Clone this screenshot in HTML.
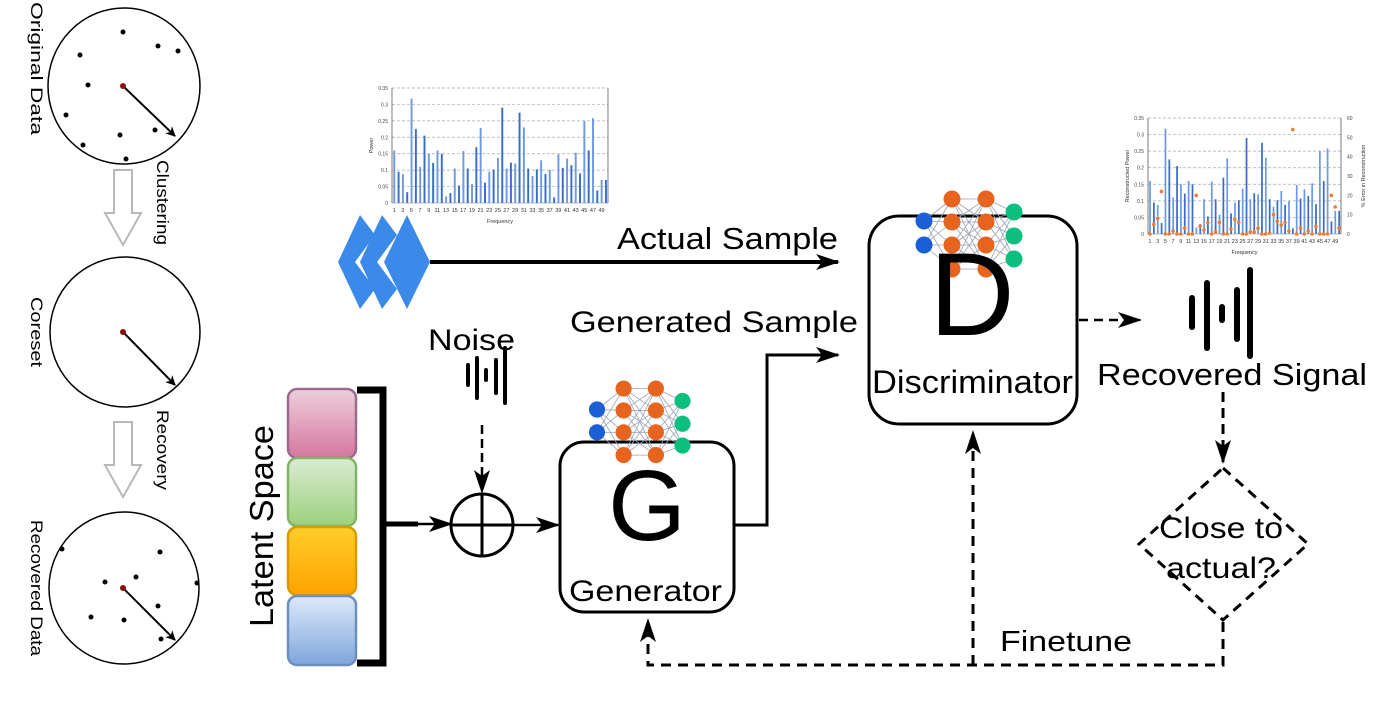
<!DOCTYPE html>
<html><head><meta charset="utf-8"><style>
html,body{margin:0;padding:0;background:#fff;}
svg{display:block;font-family:"Liberation Sans",Arial,sans-serif;}
</style></head><body>
<svg id="s" width="1399" height="716" viewBox="0 0 1399 716" xmlns="http://www.w3.org/2000/svg">
<defs>
<marker id="ah" markerWidth="10" markerHeight="10" refX="9" refY="5" orient="auto" markerUnits="userSpaceOnUse"><path d="M0,0 L10,5 L0,10 L3,5 z" fill="#000"/></marker>
<marker id="ah2" markerWidth="24" markerHeight="16" refX="22" refY="8" orient="auto" markerUnits="userSpaceOnUse"><path d="M0,0 L24,8 L0,16 L6,8 z" fill="#000"/></marker>
<linearGradient id="gp" x1="0" y1="0" x2="0" y2="1"><stop offset="0" stop-color="#ecd0dc"/><stop offset="1" stop-color="#d6769e"/></linearGradient>
<linearGradient id="gg" x1="0" y1="0" x2="0" y2="1"><stop offset="0" stop-color="#dbecd3"/><stop offset="1" stop-color="#9bd07c"/></linearGradient>
<linearGradient id="go" x1="0" y1="0" x2="0" y2="1"><stop offset="0" stop-color="#ffcd2a"/><stop offset="1" stop-color="#ffa200"/></linearGradient>
<linearGradient id="gb" x1="0" y1="0" x2="0" y2="1"><stop offset="0" stop-color="#dde9fa"/><stop offset="1" stop-color="#7fa6dc"/></linearGradient>
</defs>

<g fill="none" stroke="#000" stroke-width="1.5">
<ellipse cx="124" cy="86" rx="76" ry="78"/>
<ellipse cx="125" cy="332" rx="75" ry="75"/>
<ellipse cx="124" cy="588" rx="75" ry="76"/>
<line x1="123" y1="86" x2="175" y2="136" stroke-width="2" marker-end="url(#ah)"/>
<line x1="123" y1="332" x2="175" y2="385" stroke-width="2" marker-end="url(#ah)"/>
<line x1="123" y1="588" x2="175" y2="640" stroke-width="2" marker-end="url(#ah)"/>
</g>
<g fill="#000">
<circle cx="123" cy="32" r="2.5"/><circle cx="158" cy="46" r="2.5"/><circle cx="178" cy="51" r="2.5"/><circle cx="80" cy="55" r="2.5"/><circle cx="88" cy="85" r="2.5"/><circle cx="66" cy="115" r="2.5"/><circle cx="155" cy="130" r="2.5"/><circle cx="120" cy="135" r="2.5"/><circle cx="83" cy="145" r="2.5"/><circle cx="126" cy="159" r="2.5"/>
<circle cx="62" cy="549" r="2.5"/><circle cx="160" cy="552" r="2.5"/><circle cx="105" cy="582" r="2.5"/><circle cx="136" cy="577" r="2.5"/><circle cx="197" cy="583" r="2.5"/><circle cx="158" cy="606" r="2.5"/><circle cx="91" cy="617" r="2.5"/><circle cx="124" cy="620" r="2.5"/><circle cx="161" cy="639" r="2.5"/>
</g>
<g fill="#8b1010"><circle cx="123" cy="86" r="3"/><circle cx="123" cy="332" r="3"/><circle cx="123" cy="588" r="3"/></g>
<g fill="#fff" stroke="#b8b8b8" stroke-width="2">
<path d="M114,170 L132,170 L132,213 L141,213 L123,245 L105,213 L114,213 z"/>
<path d="M114,422 L132,422 L132,465 L141,465 L123,497 L105,465 L114,465 z"/>
</g>
<g font-size="17" fill="#000" lengthAdjust="spacingAndGlyphs">
<text transform="translate(31,2) rotate(90)" textLength="133" lengthAdjust="spacingAndGlyphs">Original Data</text>
<text transform="translate(157,160) rotate(90)" textLength="85" lengthAdjust="spacingAndGlyphs">Clustering</text>
<text transform="translate(31,297) rotate(90)" textLength="70" lengthAdjust="spacingAndGlyphs">Coreset</text>
<text transform="translate(157,410) rotate(90)" textLength="80" lengthAdjust="spacingAndGlyphs">Recovery</text>
<text transform="translate(31,520) rotate(90)" textLength="136" lengthAdjust="spacingAndGlyphs">Recovered Data</text>
</g>

<g id="c1"></g>
<g id="c2"></g>

<g fill="#3b8aea">
<path d="M360,215 L375,235 L355,262 L375,289 L360,309 L338,262 z"/>
<path d="M382,215 L397,235 L377,262 L397,289 L382,309 L360,262 z"/>
<path d="M407,215 L430,262 L407,309 L384,262 z"/>
</g>
<line x1="430" y1="262" x2="838" y2="262" stroke="#000" stroke-width="4" marker-end="url(#ah2)"/>
<text x="617" y="249" font-size="31" textLength="221" lengthAdjust="spacingAndGlyphs">Actual Sample</text>
<text x="570" y="332" font-size="30" textLength="288" lengthAdjust="spacingAndGlyphs">Generated Sample</text>
<polyline points="735,525 767,525 767,355 838,355" fill="none" stroke="#000" stroke-width="3" marker-end="url(#ah2)"/>

<rect x="869" y="216" width="208" height="208" rx="30" fill="none" stroke="#000" stroke-width="3"/>
<g id="nn1"></g>
<text x="972" y="335" font-size="118" text-anchor="middle">D</text>
<text x="872" y="393" font-size="32" textLength="201" lengthAdjust="spacingAndGlyphs">Discriminator</text>

<rect x="560" y="442" width="174" height="170" rx="24" fill="none" stroke="#000" stroke-width="3"/>
<g id="nn2"></g>
<text x="647" y="540" font-size="100" text-anchor="middle">G</text>
<text x="569" y="601" font-size="30" textLength="153" lengthAdjust="spacingAndGlyphs">Generator</text>

<rect x="288" y="389" width="68" height="69" rx="9" fill="url(#gp)" stroke="#9b6a8f" stroke-width="2.5"/>
<rect x="288" y="458" width="68" height="68" rx="9" fill="url(#gg)" stroke="#82b366" stroke-width="2.5"/>
<rect x="288" y="527" width="68" height="68" rx="9" fill="url(#go)" stroke="#d79b00" stroke-width="2.5"/>
<rect x="288" y="596" width="68" height="69" rx="9" fill="url(#gb)" stroke="#6c8ebf" stroke-width="2.5"/>
<polyline points="357,390 383,390 383,663 357,663" fill="none" stroke="#000" stroke-width="7"/>
<line x1="383" y1="524" x2="418" y2="524" stroke="#000" stroke-width="5"/>
<line x1="415" y1="524" x2="451" y2="524" stroke="#000" stroke-width="2.5" marker-end="url(#ah2)"/>
<text transform="translate(273,627) rotate(-90)" font-size="33" textLength="202" lengthAdjust="spacingAndGlyphs">Latent Space</text>
<circle cx="482" cy="525" r="31" fill="none" stroke="#000" stroke-width="3"/>
<line x1="482" y1="494" x2="482" y2="556" stroke="#000" stroke-width="3"/>
<line x1="451" y1="525" x2="513" y2="525" stroke="#000" stroke-width="3"/>
<line x1="513" y1="525" x2="558" y2="525" stroke="#000" stroke-width="2.5" marker-end="url(#ah2)"/>
<text x="428" y="350" font-size="30" textLength="87" lengthAdjust="spacingAndGlyphs">Noise</text>
<g stroke="#000" stroke-width="4" stroke-linecap="round">
<line x1="468" y1="365" x2="468" y2="385"/><line x1="477" y1="358" x2="477" y2="398"/><line x1="486" y1="370" x2="486" y2="380"/><line x1="496" y1="360" x2="496" y2="393"/><line x1="505" y1="348" x2="505" y2="403"/>
</g>
<line x1="482" y1="425" x2="482" y2="492" stroke="#000" stroke-width="2.5" stroke-dasharray="9,5" marker-end="url(#ah2)"/>

<line x1="1079" y1="320" x2="1140" y2="320" stroke="#000" stroke-width="2.5" stroke-dasharray="9,6" marker-end="url(#ah2)"/>
<g stroke="#000" stroke-width="6" stroke-linecap="round">
<line x1="1192" y1="298" x2="1192" y2="327"/><line x1="1207" y1="283" x2="1207" y2="348"/><line x1="1222" y1="307" x2="1222" y2="320"/><line x1="1237" y1="290" x2="1237" y2="339"/><line x1="1250" y1="270" x2="1250" y2="356"/>
</g>
<text x="1097" y="385" font-size="31" textLength="270" lengthAdjust="spacingAndGlyphs">Recovered Signal</text>
<line x1="1223" y1="392" x2="1223" y2="462" stroke="#000" stroke-width="3" stroke-dasharray="10,6" marker-end="url(#ah2)"/>
<path d="M1223,468 L1308,544 L1223,620 L1139,544 z" fill="none" stroke="#000" stroke-width="3" stroke-dasharray="10,7"/>
<text x="1159" y="538" font-size="30" textLength="124" lengthAdjust="spacingAndGlyphs">Close to</text>
<text x="1166" y="578" font-size="30" textLength="110" lengthAdjust="spacingAndGlyphs">actual?</text>
<polyline points="1223,622 1223,665 648,665 648,620" fill="none" stroke="#000" stroke-width="3" stroke-dasharray="10,7" marker-end="url(#ah2)"/>
<line x1="973" y1="665" x2="973" y2="432" stroke="#000" stroke-width="3" stroke-dasharray="10,7" marker-end="url(#ah2)"/>
<text x="1000" y="651" font-size="29" textLength="132" lengthAdjust="spacingAndGlyphs">Finetune</text>
</svg>
<script>
var NS="http://www.w3.org/2000/svg";
function el(p,t,a,txt){var e=document.createElementNS(NS,t);for(var k in a)e.setAttribute(k,a[k]);if(txt!==undefined)e.textContent=txt;p.appendChild(e);return e;}
var v=[.16,.095,.088,.033,.318,.225,.11,.205,.15,.122,.16,.15,.02,.03,.105,.053,.158,.105,.058,.17,.228,.062,.095,.102,.137,.29,.105,.123,.12,.275,.23,.105,.082,.102,.13,.088,.1,.017,.148,.107,.135,.115,.153,.09,.25,.16,.258,.038,.07,.07];
function chart(g,x0,x1,y0,yb,ylab,err){
 var h=yb-y0;
 for(var i=0;i<=7;i++){var y=yb-h*i/7;
  el(g,"line",{x1:x0,x2:x1,y1:y,y2:y,stroke:"#aaa","stroke-width":0.7,"stroke-dasharray":i?"3,2":""});
  el(g,"text",{x:x0-4,y:y+2,"font-size":5,"text-anchor":"end",fill:"#444"},(i*0.05).toFixed(2).replace(/\.?0+$/,"")||"0");}
 el(g,"line",{x1:x0,x2:x0,y1:y0,y2:yb,stroke:"#444","stroke-width":0.7});
 el(g,"line",{x1:x1,x2:x1,y1:y0,y2:yb,stroke:"#444","stroke-width":0.7});
 var w=(x1-x0)/50;
 for(var i=0;i<50;i++){var bh=v[i]/0.35*h;
  el(g,"rect",{x:x0+i*w+w*0.3,y:yb-bh,width:w*0.45,height:bh,fill:i%2?"#3a6cc8":"#6f9ae0"});
  if(i%2==0)el(g,"text",{x:x0+i*w+w/2,y:yb+9,"font-size":5.5,"text-anchor":"middle",fill:"#333"},i+1);}
 el(g,"text",{x:(x0+x1)/2,y:yb+20,"font-size":5.5,"text-anchor":"middle",fill:"#333"},"Frequency");
 el(g,"text",{transform:"translate("+(x0-19)+","+((y0+yb)/2)+") rotate(-90)","font-size":5.5,"text-anchor":"middle",fill:"#333"},ylab);
 if(err){var e=[0,5,8,22,0,0,1.5,0,0,3,0,0,20,4,2,6,0,1,6,0,0,2.5,7.5,6,0,0,1,1,3,0,0,0.5,10,6.5,4.5,6,1.5,54,0,3,0,1.5,0,4,0,0,0,20,14,3];
  for(var i=0;i<50;i++)el(g,"circle",{cx:x0+i*w+w/2,cy:yb-e[i]/60*h,r:1.8,fill:"#ee7d31"});
  for(var i=0;i<=6;i++)el(g,"text",{x:x1+6,y:yb-h*i/6+2,"font-size":5,fill:"#444"},i*10);
  el(g,"text",{transform:"translate("+(x1+24)+","+((y0+yb)/2)+") rotate(-90)","font-size":5.5,"text-anchor":"middle",fill:"#333"},"% Error in Reconstruction");}
}
chart(document.getElementById("c1"),392,608,88,203,"Power",false);
chart(document.getElementById("c2"),1148,1341,118,234,"Reconstructed Power",true);
function nn(g,x,y,s){
 var L=[[[0,30],[0,54]],[[28,8],[28,31],[28,54],[28,78]],[[62,8],[62,31],[62,54],[62,78]],[[90,21],[90,45],[90,68]]];
 var c=["#1a5fd6","#e6641e","#e6641e","#0dbf7e"];
 for(var l=0;l<3;l++)L[l].forEach(function(a){L[l+1].forEach(function(b){el(g,"line",{x1:x+a[0]*s,y1:y+a[1]*s,x2:x+b[0]*s,y2:y+b[1]*s,stroke:"#9aa3b5","stroke-width":0.8});});});
 L.forEach(function(ly,l){ly.forEach(function(p){el(g,"circle",{cx:x+p[0]*s,cy:y+p[1]*s,r:8.5*s,fill:c[l]});});});
}
nn(document.getElementById("nn1"),924,191,1.0);
nn(document.getElementById("nn2"),597,381,0.95);
</script>
</body></html>
